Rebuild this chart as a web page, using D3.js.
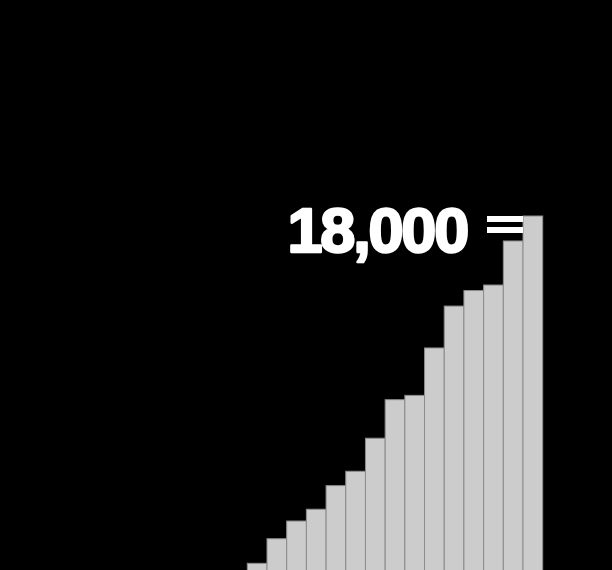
<!DOCTYPE html>
<html>
<head>
<meta charset="utf-8">
<script src="https://cdn.jsdelivr.net/npm/d3@7"></script>
<style>
  html, body { margin: 0; padding: 0; background: #000; }
  svg { display: block; }
  .big { font-family: "Liberation Sans", Arial, sans-serif; font-weight: bold; }
</style>
</head>
<body>
<svg id="chart" width="612" height="570"></svg>
<script>
const categories = ["1","2","3","4","5","6","7","8","9","10","11","12","13","14","15"];
const values = [340, 1590, 2490, 3090, 4290, 5020, 6700, 8660, 8880, 11290, 13420, 14210, 14490, 16730, 18000];
const labelValue = 18000;
const labelText = "18,000";

const svg = d3.select("#chart");
svg.append("rect").attr("width", 612).attr("height", 570).attr("fill", "#000");

const x = d3.scaleBand().domain(categories).range([247.3, 542.7]).paddingInner(0).paddingOuter(0);
const y = d3.scaleLinear().domain([0, labelValue]).range([570, 216]);

svg.append("g").selectAll("rect")
  .data(values)
  .join("rect")
  .attr("x", (d, i) => x(categories[i]))
  .attr("y", d => y(d))
  .attr("width", x.bandwidth())
  .attr("height", d => y(0) - y(d) + 2)
  .attr("fill", "#cccccc")
  .attr("stroke", "#8c8c8c")
  .attr("stroke-width", 1);

// "=" marker next to the label
const markX0 = 487, markX1 = x(categories[categories.length - 1]);
[3, 14].forEach(off => {
  svg.append("rect")
    .attr("x", markX0)
    .attr("y", y(labelValue) + off - 3)
    .attr("width", markX1 - markX0)
    .attr("height", 6)
    .attr("fill", "#fff");
});

svg.append("text")
  .attr("class", "big")
  .attr("x", 467)
  .attr("y", y(labelValue) + 35.5)
  .attr("text-anchor", "end")
  .attr("font-size", 63)
  .attr("letter-spacing", -2.2)
  .attr("fill", "#fff")
  .attr("stroke", "#fff")
  .attr("stroke-width", 2.5)
  .attr("stroke-linejoin", "round")
  .text(labelText);
</script>
</body>
</html>
